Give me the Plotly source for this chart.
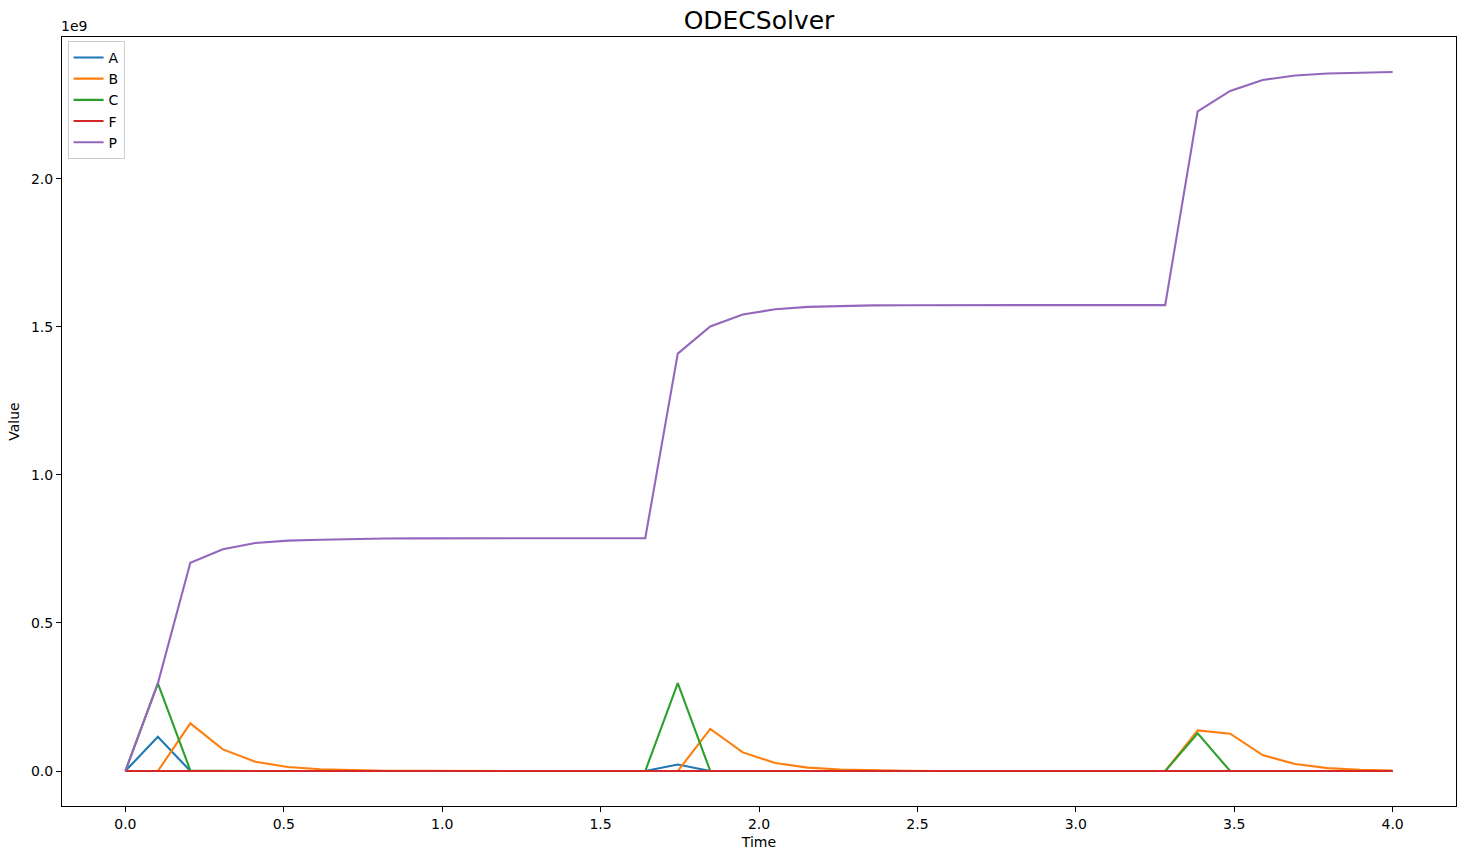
import plotly.graph_objects as go

# Time grid (40 samples from 0 to 4)
time = [0.0, 0.1026, 0.2051, 0.3077, 0.4103, 0.5128, 0.6154, 0.7179, 0.8205, 0.9231,
        1.0256, 1.1282, 1.2308, 1.3333, 1.4359, 1.5385, 1.6410, 1.7436, 1.8462, 1.9487,
        2.0513, 2.1538, 2.2564, 2.3590, 2.4615, 2.5641, 2.6667, 2.7692, 2.8718, 2.9744,
        3.0769, 3.1795, 3.2821, 3.3846, 3.4872, 3.5897, 3.6923, 3.7949, 3.8974, 4.0]

# Series values in units of 1e9
A = [0, 0.116, 0, 0, 0, 0, 0, 0, 0, 0,
     0, 0, 0, 0, 0, 0, 0, 0.022, 0, 0,
     0, 0, 0, 0, 0, 0, 0, 0, 0, 0,
     0, 0, 0, 0.002, 0, 0, 0, 0, 0, 0]
B = [0, 0, 0.161, 0.073, 0.0315, 0.0135, 0.006, 0.0025, 0.001, 0.0005,
     0, 0, 0, 0, 0, 0, 0, 0, 0.142, 0.063,
     0.027, 0.0115, 0.005, 0.002, 0.001, 0, 0, 0, 0, 0,
     0, 0, 0, 0.137, 0.126, 0.054, 0.0235, 0.010, 0.0045, 0.002]
C = [0, 0.296, 0.002, 0, 0, 0, 0, 0, 0, 0,
     0, 0, 0, 0, 0, 0, 0, 0.297, 0, 0,
     0, 0, 0, 0, 0, 0, 0, 0, 0, 0,
     0, 0, 0, 0.127, 0, 0, 0, 0, 0, 0]
F = [0] * 40
P = [0, 0.296, 0.703, 0.749, 0.770, 0.778, 0.781, 0.7835, 0.785, 0.7855,
     0.786, 0.786, 0.786, 0.786, 0.786, 0.786, 0.786, 1.409, 1.501, 1.541,
     1.559, 1.567, 1.570, 1.572, 1.5725, 1.573, 1.573, 1.573, 1.573, 1.573,
     1.573, 1.573, 1.573, 2.227, 2.296, 2.333, 2.348, 2.355, 2.358, 2.360]

series_names = ["A", "B", "C", "F", "P"]
series_values = [A, B, C, F, P]
colors = ["#1f77b4", "#ff7f0e", "#2ca02c", "#d62728", "#9467bd"]
SCALE = 1e9

x_tickvals = [0.0, 0.5, 1.0, 1.5, 2.0, 2.5, 3.0, 3.5, 4.0]
x_ticktext = ["0.0", "0.5", "1.0", "1.5", "2.0", "2.5", "3.0", "3.5", "4.0"]
y_tickvals = [0.0, 0.5, 1.0, 1.5, 2.0]
y_ticktext = ["0.0", "0.5", "1.0", "1.5", "2.0"]

fig = go.Figure()
for name, vals, col in zip(series_names, series_values, colors):
    fig.add_trace(go.Scatter(x=time, y=[v * SCALE for v in vals], mode="lines",
                             name=name, line=dict(color=col, width=2.1)))

font_family = "DejaVu Sans"
fig.update_layout(
    width=1466, height=860,
    paper_bgcolor="white", plot_bgcolor="white",
    margin=dict(l=62, r=10, t=37, b=54, autoexpand=False),
    font=dict(family=font_family, size=14, color="black"),
    title=dict(text="ODECSolver", xref="paper", x=0.5, xanchor="center",
               y=0.976, yanchor="middle",
               font=dict(family=font_family, size=25, color="black")),
    showlegend=True,
    legend=dict(x=0.004, y=0.995, xanchor="left", yanchor="top",
                bgcolor="rgba(255,255,255,0.8)", bordercolor="#cccccc", borderwidth=1,
                font=dict(family=font_family, size=14, color="black"),
                itemwidth=30, tracegroupgap=0),
    xaxis=dict(range=[-0.2, 4.2], tickvals=x_tickvals, ticktext=x_ticktext,
               showgrid=False, zeroline=False, showline=True, linecolor="black",
               linewidth=1, mirror=True, ticks="outside", ticklen=5, tickwidth=1,
               tickcolor="black", automargin=False,
               title=dict(text="Time", standoff=6, font=dict(size=14))),
    yaxis=dict(range=[-0.118 * SCALE, 2.478 * SCALE],
               tickvals=[v * SCALE for v in y_tickvals], ticktext=y_ticktext,
               showgrid=False, zeroline=False, showline=True, linecolor="black",
               linewidth=1, mirror=True, ticks="outside", ticklen=5, tickwidth=1,
               tickcolor="black", automargin=False,
               title=dict(text="Value", standoff=8, font=dict(size=14))),
)
fig.add_annotation(text="1e9", xref="paper", yref="paper", x=0, y=1.0,
                   xanchor="left", yanchor="bottom", showarrow=False,
                   font=dict(family=font_family, size=14, color="black"),
                   yshift=1, xshift=-3)

fig.write_html("out.html", config={"displayModeBar": False})

# remove the default browser body margin so the figure sits at the page origin
with open("out.html", "r", encoding="utf-8") as fh:
    html = fh.read()
html = html.replace("<body>", '<body style="margin:0;padding:0;">', 1)
html = html.replace("<head>", "<head><style>html,body{margin:0;padding:0;overflow:hidden;}</style>", 1)
with open("out.html", "w", encoding="utf-8") as fh:
    fh.write(html)
